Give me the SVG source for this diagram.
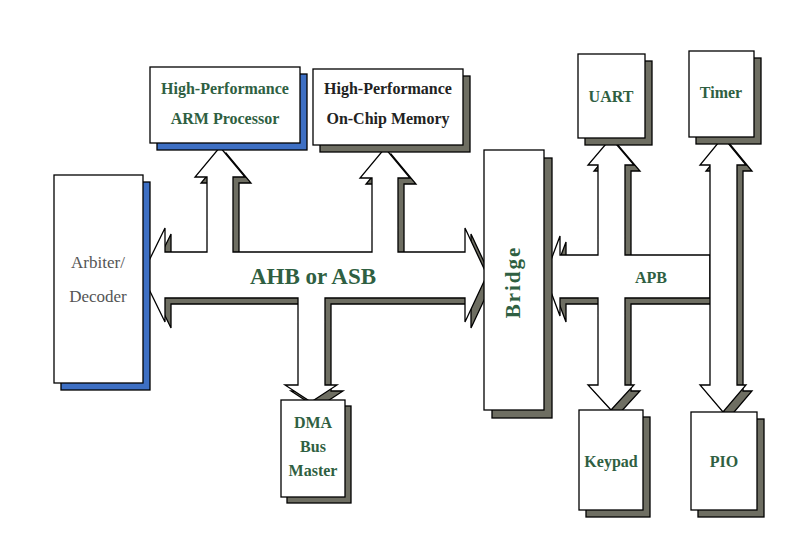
<svg xmlns="http://www.w3.org/2000/svg" width="789" height="535" viewBox="0 0 789 535" font-family="'Liberation Serif', 'DejaVu Serif', serif">
<style>
.f{fill:#fff;stroke:#000;stroke-width:1.3}
.sg{fill:#6e6e62;stroke:#000;stroke-width:1.3}
.sb{fill:#3d6fc4;stroke:#000;stroke-width:1.3}
text{text-anchor:middle}
.g{fill:#2f5f42;font-weight:bold}
.k{fill:#222;font-weight:bold}
</style>
<rect width="789" height="535" fill="#fff"/>
<g id="connectors">
<polygon class="sg" transform="translate(6,6)" points="142,275 165,228 165,252 207,252 207,177 195,177 220,147 245,177 233,177 233,252 372,252 372,178 360,178 385,148 410,178 398,178 398,252 465,252 465,228 487,275 465,322 465,298 325,298 325,385 337,385 311,402 285,385 298,385 298,298 165,298 165,322"/>
<polygon class="f" points="142,275 165,228 165,252 207,252 207,177 195,177 220,147 245,177 233,177 233,252 372,252 372,178 360,178 385,148 410,178 398,178 398,252 465,252 465,228 487,275 465,322 465,298 325,298 325,385 337,385 311,402 285,385 298,385 298,298 165,298 165,322"/>
<polygon class="sg" transform="translate(6,6)" points="545,276 560,236 560,255 598,255 598,165 588,165 611,138 634,165 625,165 625,255 710,255 710,298 625,298 625,385 634,385 611,410 588,385 598,385 598,298 560,298 560,316"/>
<polygon class="f" points="545,276 560,236 560,255 598,255 598,165 588,165 611,138 634,165 625,165 625,255 710,255 710,298 625,298 625,385 634,385 611,410 588,385 598,385 598,298 560,298 560,316"/>
<polygon class="sg" transform="translate(6,6)" points="710,165 700,165 723,137 746,165 737,165 737,385 746,385 723,412 700,385 710,385"/>
<polygon class="f" points="710,165 700,165 723,137 746,165 737,165 737,385 746,385 723,412 700,385 710,385"/>
<text class="g" x="313" y="284" font-size="23">AHB or ASB</text>
<text class="g" x="651" y="283" font-size="16">APB</text>
</g>
<g id="arbiter"><rect class="sb" x="61" y="182" width="89" height="208"/><rect class="f" x="54" y="175" width="89" height="208"/>
<text x="98" y="268" font-size="17" fill="#555">Arbiter/</text><text x="98" y="302" font-size="17" fill="#555">Decoder</text></g>
<g id="arm"><rect class="sb" x="157" y="74" width="150" height="76"/><rect class="f" x="150" y="67" width="150" height="76"/>
<text class="g" x="225" y="94" font-size="16">High-Performance</text><text class="g" x="225" y="124" font-size="16">ARM Processor</text></g>
<g id="memory"><rect class="sg" x="320" y="76" width="150" height="76"/><rect class="f" x="313" y="69" width="150" height="76"/>
<text class="k" x="388" y="94" font-size="16">High-Performance</text><text class="k" x="388" y="124" font-size="16">On-Chip Memory</text></g>
<g id="bridge"><rect class="sg" x="492" y="158" width="60" height="260"/><rect class="f" x="484" y="150" width="60" height="260"/>
<text class="g" x="0" y="0" font-size="21" letter-spacing="2" transform="translate(520,282) rotate(-90)">Bridge</text></g>
<g id="dma"><rect class="sg" x="287" y="406" width="64" height="97"/><rect class="f" x="281" y="400" width="64" height="97"/>
<text class="g" x="313" y="428" font-size="16">DMA</text><text class="g" x="313" y="452" font-size="16">Bus</text><text class="g" x="313" y="476" font-size="16">Master</text></g>
<g id="uart"><rect class="sg" x="585" y="61" width="67" height="84"/><rect class="f" x="578" y="54" width="67" height="84"/>
<text class="g" x="611" y="102" font-size="16">UART</text></g>
<g id="timer"><rect class="sg" x="696" y="58" width="65" height="86"/><rect class="f" x="689" y="51" width="65" height="86"/>
<text class="g" x="721" y="98" font-size="16">Timer</text></g>
<g id="keypad"><rect class="sg" x="586" y="417" width="64" height="100"/><rect class="f" x="579" y="410" width="64" height="100"/>
<text class="g" x="611" y="467" font-size="16">Keypad</text></g>
<g id="pio"><rect class="sg" x="698" y="419" width="66" height="98"/><rect class="f" x="691" y="412" width="66" height="98"/>
<text class="g" x="724" y="467" font-size="16">PIO</text></g>
</svg>
